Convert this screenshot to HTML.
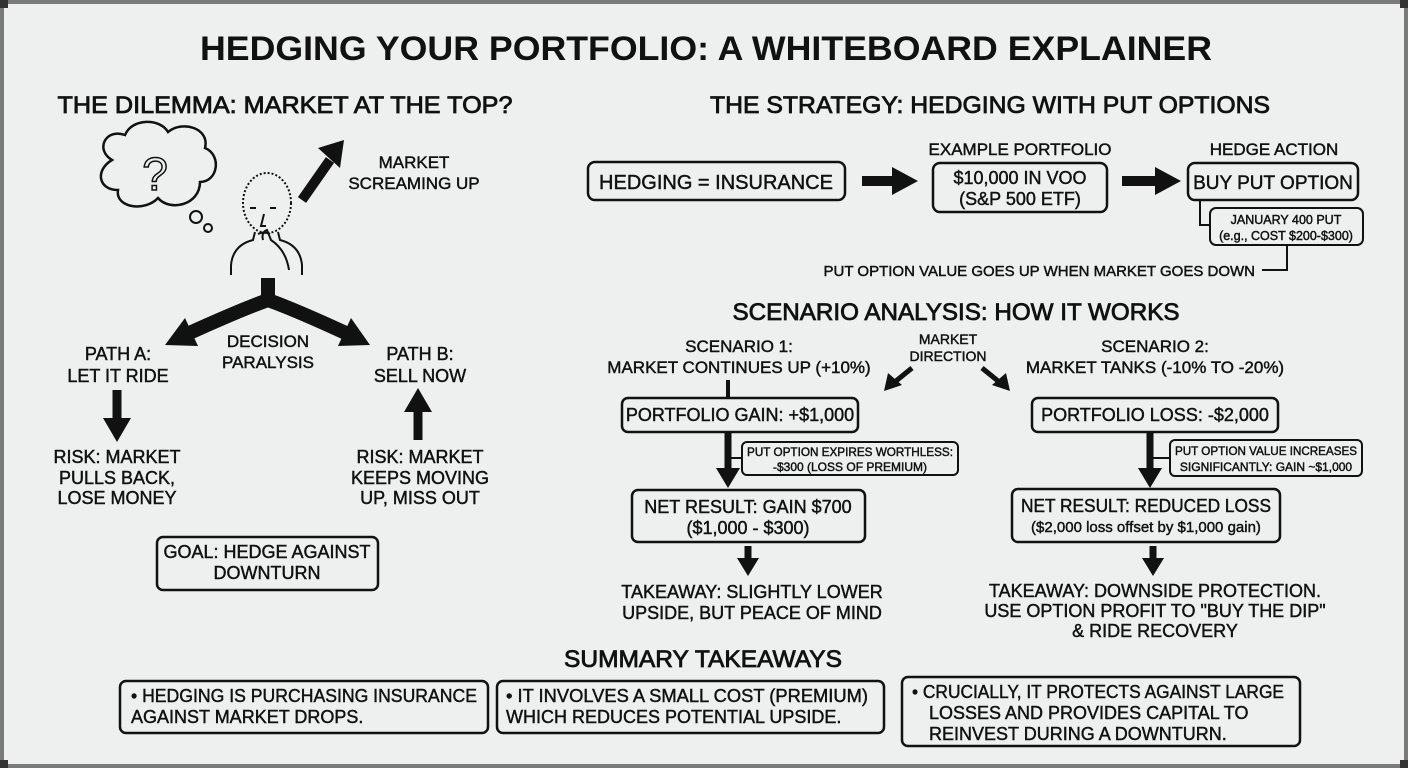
<!DOCTYPE html>
<html><head><meta charset="utf-8"><style>
html,body{margin:0;padding:0;background:#eef0ef;}
svg{display:block;}
text{font-family:"Liberation Sans",sans-serif;fill:#111;stroke:#111;stroke-width:0.45;}
</style></head><body>
<svg width="1408" height="768" viewBox="0 0 1408 768" xmlns="http://www.w3.org/2000/svg">
<rect x="0" y="0" width="1408" height="768" fill="#eef0ef"/>
<rect x="2" y="2" width="1404" height="764" fill="none" stroke="#7a7a7a" stroke-width="4"/>
<rect x="0" y="0" width="8" height="8" fill="#333"/><rect x="1400" y="0" width="8" height="8" fill="#333"/>
<rect x="0" y="760" width="8" height="8" fill="#333"/><rect x="1400" y="760" width="8" height="8" fill="#333"/>

<g text-anchor="middle">
<text x="706" y="60" font-size="34" font-weight="bold" textLength="1012" lengthAdjust="spacingAndGlyphs" style="stroke-width:0">HEDGING YOUR PORTFOLIO: A WHITEBOARD EXPLAINER</text>
<text x="285" y="113" font-size="24" textLength="455" lengthAdjust="spacingAndGlyphs" style="stroke-width:0.8">THE DILEMMA: MARKET AT THE TOP?</text>
<text x="990" y="113" font-size="24" textLength="560" lengthAdjust="spacingAndGlyphs" style="stroke-width:0.8">THE STRATEGY: HEDGING WITH PUT OPTIONS</text>
</g>

<!-- cloud -->
<path d="M112,160 C95,150 105,128 125,135 C132,118 160,118 168,132 C182,120 210,128 205,148 C222,155 218,182 200,182 C200,205 170,212 158,198 C145,212 115,208 118,190 C98,190 95,170 112,160 Z" fill="none" stroke="#111" stroke-width="2.5"/>
<text x="155" y="190" font-size="46" text-anchor="middle" fill="none" stroke="#111" style="stroke-width:1.5;fill:none">?</text>
<circle cx="196" cy="217" r="6" fill="none" stroke="#111" stroke-width="2"/>
<circle cx="208" cy="228" r="4" fill="none" stroke="#111" stroke-width="2"/>
<!-- person -->
<g fill="none" stroke="#111" stroke-width="2">
<ellipse cx="267" cy="203" rx="24" ry="30" stroke-dasharray="2,2"/>
<path d="M250,208 l6,0 M270,208 l6,0 M264,214 l-3,12 l5,0 M258,234 q6,-3 12,0"/>
<path d="M255,232 l-2,8 q-20,5 -22,25 l0,10 M278,232 l2,8 q20,5 22,25 l0,10"/>
<path d="M263,240 q-2,-8 4,-10 l4,10 q15,10 18,30"/>
</g>
<!-- up-right arrow -->
<line x1="302" y1="200" x2="330" y2="160" stroke="#111" stroke-width="10"/>
<path d="M318,148 L344,140 L340,168 Z" fill="#111"/>
<g text-anchor="middle" font-size="17">
<text x="414" y="168">MARKET</text>
<text x="414" y="189">SCREAMING UP</text>
</g>
<!-- fork -->
<path d="M268,278 L268,300 Q240,310 185,335 M268,300 Q296,310 350,335" fill="none" stroke="#111" stroke-width="14"/>
<path d="M165,345 L185,318 L198,346 Z" fill="#111"/>
<path d="M370,345 L351,318 L338,346 Z" fill="#111"/>
<g text-anchor="middle" font-size="17">
<text x="268" y="347">DECISION</text><text x="268" y="368">PARALYSIS</text>
</g>
<g text-anchor="middle" font-size="18">
<text x="118" y="360">PATH A:</text><text x="118" y="382">LET IT RIDE</text>
<text x="420" y="360">PATH B:</text><text x="420" y="382">SELL NOW</text>
<text x="117" y="463">RISK: MARKET</text><text x="117" y="484">PULLS BACK,</text><text x="117" y="504">LOSE MONEY</text>
<text x="420" y="463">RISK: MARKET</text><text x="420" y="484">KEEPS MOVING</text><text x="420" y="504">UP, MISS OUT</text>
</g>
<line x1="117" y1="390" x2="117" y2="420" stroke="#111" stroke-width="9"/>
<path d="M103,418 L131,418 L117,442 Z" fill="#111"/>
<line x1="418" y1="440" x2="418" y2="410" stroke="#111" stroke-width="9"/>
<path d="M404,412 L432,412 L418,388 Z" fill="#111"/>
<rect x="157" y="537" width="221" height="53" rx="6" fill="none" stroke="#111" stroke-width="2.5"/>
<g text-anchor="middle" font-size="18"><text x="267" y="558">GOAL: HEDGE AGAINST</text><text x="267" y="579">DOWNTURN</text></g>

<!-- strategy -->
<rect x="588" y="162" width="257" height="38" rx="7" fill="none" stroke="#111" stroke-width="2.5"/>
<text x="716" y="189" font-size="20" text-anchor="middle">HEDGING = INSURANCE</text>
<line x1="862" y1="181" x2="895" y2="181" stroke="#111" stroke-width="10"/><path d="M892,167 L918,181 L892,195 Z" fill="#111"/>
<text x="1020" y="155" font-size="17" text-anchor="middle">EXAMPLE PORTFOLIO</text>
<rect x="933" y="163" width="174" height="49" rx="7" fill="none" stroke="#111" stroke-width="2.5"/>
<g text-anchor="middle" font-size="18"><text x="1020" y="184">$10,000 IN VOO</text><text x="1020" y="205">(S&amp;P 500 ETF)</text></g>
<line x1="1122" y1="181" x2="1158" y2="181" stroke="#111" stroke-width="10"/><path d="M1155,167 L1181,181 L1155,195 Z" fill="#111"/>
<text x="1274" y="155" font-size="17" text-anchor="middle">HEDGE ACTION</text>
<rect x="1188" y="163" width="170" height="37" rx="7" fill="none" stroke="#111" stroke-width="2.5"/>
<text x="1273" y="189" font-size="19" text-anchor="middle">BUY PUT OPTION</text>
<path d="M1200,200 L1200,225 L1210,225 M1287,245 L1287,270 L1262,270" fill="none" stroke="#111" stroke-width="2"/>
<rect x="1210" y="208" width="153" height="37" rx="6" fill="none" stroke="#111" stroke-width="2"/>
<g text-anchor="middle" font-size="12.5"><text x="1286" y="224">JANUARY 400 PUT</text><text x="1286" y="240">(e.g., COST $200-$300)</text></g>
<text x="1255" y="276" font-size="15" text-anchor="end">PUT OPTION VALUE GOES UP WHEN MARKET GOES DOWN</text>

<text x="956" y="320" font-size="24" text-anchor="middle" textLength="447" lengthAdjust="spacingAndGlyphs" style="stroke-width:0.8">SCENARIO ANALYSIS: HOW IT WORKS</text>
<g text-anchor="middle" font-size="14"><text x="948" y="344">MARKET</text><text x="948" y="361">DIRECTION</text></g>
<g text-anchor="middle" font-size="17">
<text x="739" y="352">SCENARIO 1:</text><text x="739" y="373">MARKET CONTINUES UP (+10%)</text>
<text x="1155" y="352">SCENARIO 2:</text><text x="1155" y="373">MARKET TANKS (-10% TO -20%)</text>
</g>
<line x1="912" y1="368" x2="896" y2="381" stroke="#111" stroke-width="5"/><path d="M884,391 L888,373 L902,385 Z" fill="#111"/>
<line x1="982" y1="368" x2="998" y2="381" stroke="#111" stroke-width="5"/><path d="M1010,391 L1006,373 L992,385 Z" fill="#111"/>
<line x1="728" y1="380" x2="728" y2="398" stroke="#111" stroke-width="4"/>

<rect x="622" y="398" width="236" height="34" rx="6" fill="none" stroke="#111" stroke-width="2.5"/>
<text x="740" y="421" font-size="18" text-anchor="middle">PORTFOLIO GAIN: +$1,000</text>
<rect x="1032" y="398" width="246" height="34" rx="6" fill="none" stroke="#111" stroke-width="2.5"/>
<text x="1155" y="421" font-size="18" text-anchor="middle">PORTFOLIO LOSS: -$2,000</text>

<line x1="728" y1="432" x2="728" y2="470" stroke="#111" stroke-width="7"/><path d="M716,468 L740,468 L728,488 Z" fill="#111"/>
<line x1="728" y1="458" x2="742" y2="458" stroke="#111" stroke-width="2"/>
<rect x="742" y="442" width="216" height="33" rx="5" fill="none" stroke="#111" stroke-width="2"/>
<g text-anchor="middle" font-size="12"><text x="850" y="456" textLength="206" lengthAdjust="spacingAndGlyphs">PUT OPTION EXPIRES WORTHLESS:</text><text x="850" y="471">-$300 (LOSS OF PREMIUM)</text></g>
<line x1="1150" y1="432" x2="1150" y2="470" stroke="#111" stroke-width="7"/><path d="M1138,468 L1162,468 L1150,488 Z" fill="#111"/>
<line x1="1150" y1="458" x2="1170" y2="458" stroke="#111" stroke-width="2"/>
<rect x="1170" y="440" width="192" height="36" rx="5" fill="none" stroke="#111" stroke-width="2"/>
<g text-anchor="middle" font-size="12"><text x="1266" y="455" textLength="182" lengthAdjust="spacingAndGlyphs">PUT OPTION VALUE INCREASES</text><text x="1266" y="471">SIGNIFICANTLY: GAIN ~$1,000</text></g>

<rect x="632" y="490" width="233" height="52" rx="6" fill="none" stroke="#111" stroke-width="2.5"/>
<g text-anchor="middle" font-size="18"><text x="748" y="513">NET RESULT: GAIN $700</text><text x="748" y="534">($1,000 - $300)</text></g>
<rect x="1012" y="489" width="268" height="53" rx="6" fill="none" stroke="#111" stroke-width="2.5"/>
<g text-anchor="middle"><text x="1146" y="512" font-size="18" textLength="250" lengthAdjust="spacingAndGlyphs">NET RESULT: REDUCED LOSS</text><text x="1146" y="532" font-size="15">($2,000 loss offset by $1,000 gain)</text></g>

<line x1="748" y1="546" x2="748" y2="560" stroke="#111" stroke-width="7"/><path d="M737,558 L759,558 L748,576 Z" fill="#111"/>
<line x1="1153" y1="546" x2="1153" y2="560" stroke="#111" stroke-width="7"/><path d="M1142,558 L1164,558 L1153,576 Z" fill="#111"/>
<g text-anchor="middle" font-size="18">
<text x="752" y="598">TAKEAWAY: SLIGHTLY LOWER</text><text x="752" y="619">UPSIDE, BUT PEACE OF MIND</text>
<text x="1155" y="597">TAKEAWAY: DOWNSIDE PROTECTION.</text><text x="1155" y="617">USE OPTION PROFIT TO "BUY THE DIP"</text><text x="1155" y="637">&amp; RIDE RECOVERY</text>
</g>

<text x="703" y="667" font-size="24" text-anchor="middle" textLength="278" lengthAdjust="spacingAndGlyphs" style="stroke-width:0.8">SUMMARY TAKEAWAYS</text>
<rect x="120" y="681" width="368" height="52" rx="6" fill="none" stroke="#111" stroke-width="2.5"/>
<rect x="497" y="681" width="387" height="52" rx="6" fill="none" stroke="#111" stroke-width="2.5"/>
<rect x="902" y="677" width="398" height="69" rx="6" fill="none" stroke="#111" stroke-width="2.5"/>
<g font-size="18">
<text x="131" y="702" textLength="346" lengthAdjust="spacingAndGlyphs">• HEDGING IS PURCHASING INSURANCE</text><text x="131" y="723">AGAINST MARKET DROPS.</text>
<text x="506" y="702" textLength="362" lengthAdjust="spacingAndGlyphs">• IT INVOLVES A SMALL COST (PREMIUM)</text><text x="506" y="723">WHICH REDUCES POTENTIAL UPSIDE.</text>
<text x="912" y="698" textLength="372" lengthAdjust="spacingAndGlyphs">• CRUCIALLY, IT PROTECTS AGAINST LARGE</text><text x="929" y="719">LOSSES AND PROVIDES CAPITAL TO</text><text x="929" y="740">REINVEST DURING A DOWNTURN.</text>
</g>
</svg>
</body></html>
